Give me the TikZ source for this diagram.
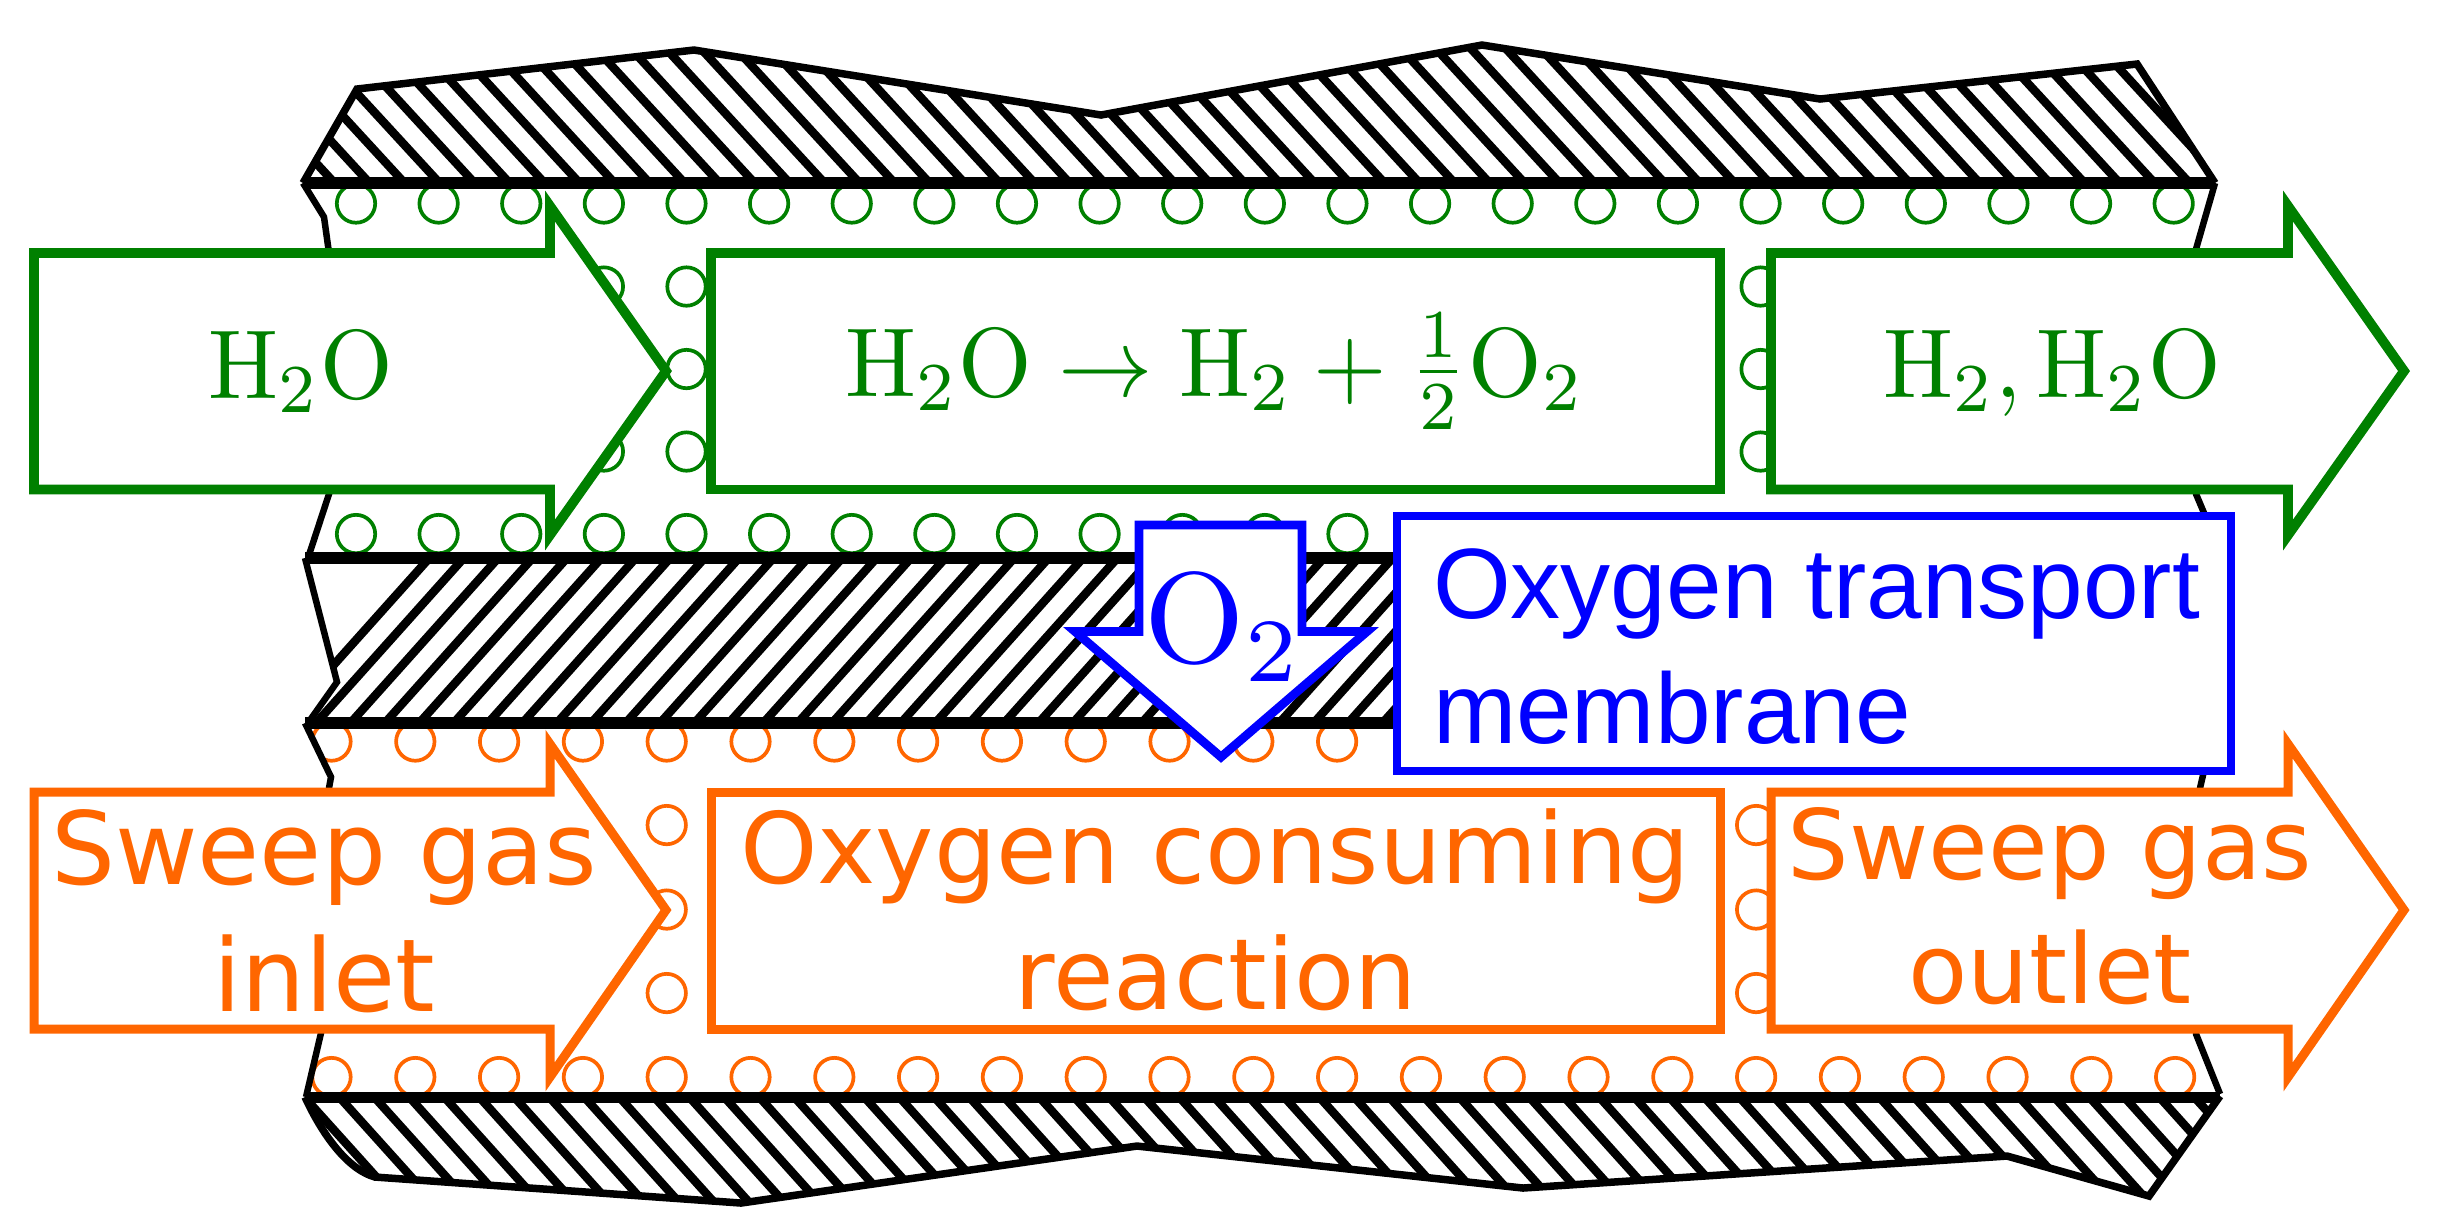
\documentclass[tikz,border=0pt]{standalone}
\usepackage[no-math]{fontspec}
\newfontfamily\orgfont{DejaVu Sans}
\newfontfamily\blufont{Liberation Sans}
\definecolor{cgreen}{RGB}{0,128,0}
\definecolor{corange}{RGB}{255,102,0}
\definecolor{cblue}{RGB}{0,0,255}
\tikzset{
  wall/.style={draw=black,line width=1.5pt,line join=miter},
  edgeline/.style={draw=black,line width=1.3pt},
  thickline/.style={draw=black,line width=2.35pt},
  hatchline/.style={draw=black,line width=1.7pt},
  bubble/.style={line width=0.74pt,fill=white},
  gbox/.style={draw=cgreen,fill=white,line width=1.95pt},
  obox/.style={draw=corange,fill=white,line width=1.8pt},
  bbox/.style={draw=cblue,fill=white,line width=1.75pt},
  lab/.style={inner sep=0pt,outer sep=0pt,anchor=base},
  lableft/.style={inner sep=0pt,outer sep=0pt,anchor=base west},
}
\begin{document}
\begin{tikzpicture}[x=0.2pt,y=-0.2pt]
\useasboundingbox (0,0) rectangle (2446,1219);

% green channel bubbles
\begin{scope}
\clip (303,183)--(324,217)--(330,260)--(329,494)--(308,558)--(2215,558)--(2204,513)--(2196,494)--(2196,249)--(2215,183)--cycle;
\foreach \k in {0,...,22}{
  \foreach \r in {203.5,286.5,369,451.5,534}{
    \draw[bubble,draw=cgreen] ({356+82.62*\k},\r) circle[radius=19.2];
  }
}
\end{scope}
\draw[edgeline] (303,183)--(324,217)--(330,260)--(329,494)--(308,558);
\draw[edgeline] (2215,183)--(2196,249)--(2196,494)--(2204,513)--(2215,558);

% orange channel bubbles
\begin{scope}
\clip (305,723)--(331,777)--(329,788)--(321,1033)--(306,1097)--(2220,1097)--(2196,1034)--(2200,788)--(2215,723)--cycle;
\foreach \k in {0,...,22}{
  \foreach \r in {741.5,825,909.5,993,1077}{
    \draw[bubble,draw=corange] ({331.5+83.8*\k},\r) circle[radius=19.2];
  }
}
\end{scope}
\draw[edgeline] (305,723)--(331,777)--(329,788)--(321,1033)--(306,1097);
\draw[edgeline] (2215,723)--(2200,788)--(2196,1034)--(2220,1094);

% top wall
\begin{scope}
\clip (303,183)--(357,89)--(694,50)--(1101,115)--(1482,45)--(1820,99)--(2137,64)--(2215,183)--cycle;
\foreach \k in {-1,...,56}{
  \draw[hatchline] ({330+35*\k+10},189) -- ({330+35*\k-127},40);
}
\end{scope}
\draw[wall] (303,183)--(357,89)--(694,50)--(1101,115)--(1482,45)--(1820,99)--(2137,64)--(2215,183);
\draw[thickline] (303,183)--(2215,183);

% membrane
\begin{scope}
\clip (305,558)--(337,682)--(308,723)--(1500,723)--(1500,558)--cycle;
\foreach \k in {-2,...,35}{
  \draw[hatchline] ({356+34.4*\k-10},728) -- ({356+34.4*\k+152},547);
}
\end{scope}
\draw[edgeline] (305,558)--(337,682)--(308,723);
\draw[thickline] (305,558)--(1500,558);
\draw[thickline] (305,723)--(1500,723);

% bottom wall
\begin{scope}
\clip (305,1097) .. controls (325,1140) and (350,1170) .. (375,1177)--(741,1203)--(1137,1146)--(1523,1188)--(2007,1156)--(2149,1196)--(2220,1097)--cycle;
\foreach \k in {-2,...,56}{
  \draw[hatchline] ({345+35*\k-12},1090) -- ({345+35*\k+96},1210);
}
\end{scope}
\draw[wall] (305,1097) .. controls (325,1140) and (350,1170) .. (375,1177)--(741,1203)--(1137,1146)--(1523,1188)--(2007,1156)--(2149,1196)--(2220,1096);
\draw[thickline] (305,1097.5)--(2220,1097.5);

% green row
\draw[gbox] (34,253)--(550,253)--(550,206)--(666,371)--(550,535)--(550,489.5)--(34,489.5)--cycle;
\draw[gbox] (711,253) rectangle (1720,489.5);
\draw[gbox] (1771,253)--(2288,253)--(2288,206)--(2404,371)--(2288,535)--(2288,489.5)--(1771,489.5)--cycle;

\node[lab,text=cgreen] (h2oin) at (301,398) {\scalebox{1.865}[1.96]{$\mathrm{H_2O}$}};
\node[lab,text=cgreen] (split) at (1215,396) {\scalebox{1.89}[1.96]{$\mathrm{H_2O}\to\mathrm{H_2}+\frac{1}{2}\mathrm{O_2}$}};
\node[lab,text=cgreen] (h2out) at (2052,397) {\scalebox{1.865}[1.96]{$\mathrm{H}_2,\mathrm{H}_2\mathrm{O}$}};

% orange row
\draw[obox] (34,792)--(550,792)--(550,744)--(666,910)--(550,1077)--(550,1029)--(34,1029)--cycle;
\draw[obox] (711,792) rectangle (1720,1029);
\draw[obox] (1771,792)--(2288,792)--(2288,744)--(2404,910)--(2288,1077)--(2288,1029)--(1771,1029)--cycle;

\node[lab,text=corange] (sw1) at (324,884) {\orgfont\fontsize{20.2}{24}\selectfont Sweep gas};
\node[lab,text=corange] (sw2) at (324,1011) {\orgfont\fontsize{20.2}{24}\selectfont inlet};
\node[lab,text=corange] (oc1) at (1215,883) {\orgfont\fontsize{19.7}{24}\selectfont Oxygen consuming};
\node[lab,text=corange] (oc2) at (1216,1009) {\orgfont\fontsize{19.7}{24}\selectfont reaction};
\node[lab,text=corange] (so1) at (2050,879) {\orgfont\fontsize{19.4}{24}\selectfont Sweep gas};
\node[lab,text=corange] (so2) at (2050,1003) {\orgfont\fontsize{19.4}{24}\selectfont outlet};

% blue
\draw[bbox] (1139,525)--(1302,525)--(1302,631.5)--(1367,631.5)--(1221,757)--(1075,631.5)--(1139,631.5)--cycle;
\node[lab,text=cblue] (otwo) at (1224,662) {\scalebox{2.58}{$\mathrm{O_2}$}};
\draw[bbox] (1397,516) rectangle (2231,771);
\node[lableft,text=cblue] (otm1) at (1433,618) {\blufont\fontsize{20}{24}\selectfont Oxygen transport};
\node[lableft,text=cblue] (otm2) at (1433,743) {\blufont\fontsize{20}{24}\selectfont membrane};
\end{tikzpicture}
\end{document}
